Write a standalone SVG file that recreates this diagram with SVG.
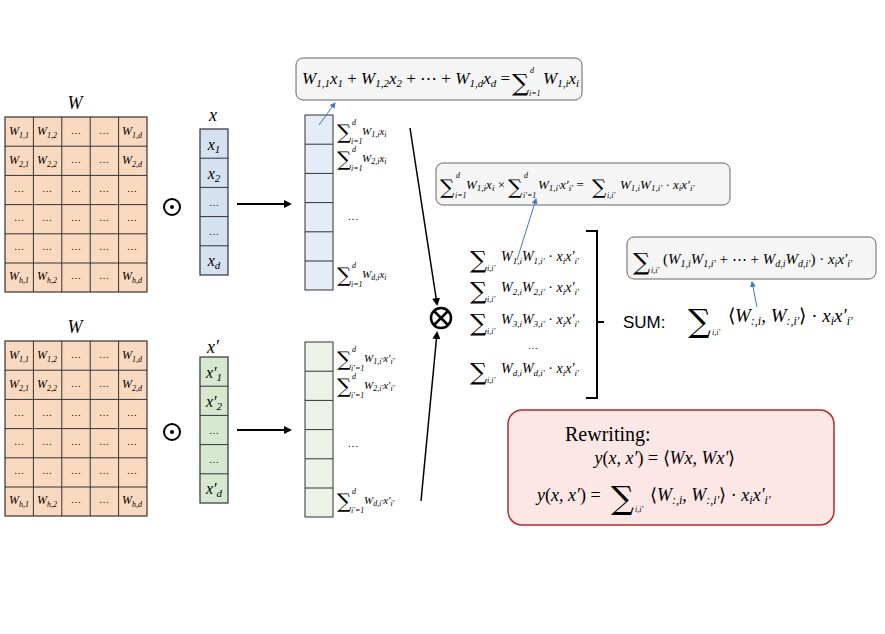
<svg xmlns="http://www.w3.org/2000/svg" width="885" height="634" viewBox="0 0 885 634">
<style>
.mat rect{fill:#fad9c1;stroke:#333;stroke-width:1.2}
.vx rect{fill:#d4e1f0;stroke:#333;stroke-width:1.2}
.vx2 rect{fill:#d6e8d0;stroke:#333;stroke-width:1.2}
.col1 rect{fill:#e3ecf7;stroke:#333;stroke-width:1}
.col2 rect{fill:#ecf3e6;stroke:#333;stroke-width:1}
text{font-family:"Liberation Serif",serif;fill:#000}
.m{font-style:italic}
.c{text-anchor:middle}
.s{font-family:"DejaVu Serif",serif;font-style:normal}
.l{font-style:italic;font-size:8px}
.box{fill:#f5f5f5;stroke:#666;stroke-width:1}
.blue{stroke:#4a74c9;stroke-width:1;fill:none}
.ar{stroke:#000;stroke-width:2;fill:none}
</style>
<defs>
<marker id="ah" markerWidth="8" markerHeight="8" refX="6" refY="4" orient="auto" markerUnits="userSpaceOnUse"><path d="M0,0 L8,4 L0,8 Z" fill="#000"/></marker>
<marker id="ab" markerWidth="6" markerHeight="6" refX="5" refY="3" orient="auto" markerUnits="userSpaceOnUse"><path d="M0,0 L6,3 L0,6 Z" fill="#4a74c9"/></marker>
</defs>

<g id="matrix-top">
<text x="75" y="109" class="m c" font-size="18">W</text>
<g class="mat">
<rect x="5" y="117" width="142" height="175"/>
<path d="M33.4,117V292M61.8,117V292M90.2,117V292M118.6,117V292M5,146.2H147M5,175.4H147M5,204.6H147M5,233.8H147M5,263H147" stroke="#333" fill="none"/>
</g>
<g font-size="12" class="m">
<text x="19" y="135" class="c">W<tspan dy="3" font-size="8">1,1</tspan></text>
<text x="47" y="135" class="c">W<tspan dy="3" font-size="8">1,2</tspan></text>
<text x="132" y="135" class="c">W<tspan dy="3" font-size="8">1,d</tspan></text>
<text x="19" y="164" class="c">W<tspan dy="3" font-size="8">2,1</tspan></text>
<text x="47" y="164" class="c">W<tspan dy="3" font-size="8">2,2</tspan></text>
<text x="132" y="164" class="c">W<tspan dy="3" font-size="8">2,d</tspan></text>
<text x="19" y="280" class="c">W<tspan dy="3" font-size="8">h,1</tspan></text>
<text x="47" y="280" class="c">W<tspan dy="3" font-size="8">h,2</tspan></text>
<text x="132" y="280" class="c">W<tspan dy="3" font-size="8">h,d</tspan></text>
</g>
<g font-size="10" class="c">
<text x="76" y="134">…</text><text x="104" y="134">…</text>
<text x="76" y="163">…</text><text x="104" y="163">…</text>
<text x="19" y="192">…</text><text x="47" y="192">…</text><text x="76" y="192">…</text><text x="104" y="192">…</text><text x="132" y="192">…</text>
<text x="19" y="221">…</text><text x="47" y="221">…</text><text x="76" y="221">…</text><text x="104" y="221">…</text><text x="132" y="221">…</text>
<text x="19" y="250">…</text><text x="47" y="250">…</text><text x="76" y="250">…</text><text x="104" y="250">…</text><text x="132" y="250">…</text>
<text x="76" y="279">…</text><text x="104" y="279">…</text>
</g>
</g>

<g id="matrix-bottom">
<text x="75" y="333" class="m c" font-size="18">W</text>
<g class="mat">
<rect x="5" y="341" width="142" height="175"/>
<path d="M33.4,341V516M61.8,341V516M90.2,341V516M118.6,341V516M5,370.2H147M5,399.4H147M5,428.6H147M5,457.8H147M5,487H147" stroke="#333" fill="none"/>
</g>
<g font-size="12" class="m">
<text x="19" y="359" class="c">W<tspan dy="3" font-size="8">1,1</tspan></text>
<text x="47" y="359" class="c">W<tspan dy="3" font-size="8">1,2</tspan></text>
<text x="132" y="359" class="c">W<tspan dy="3" font-size="8">1,d</tspan></text>
<text x="19" y="388" class="c">W<tspan dy="3" font-size="8">2,1</tspan></text>
<text x="47" y="388" class="c">W<tspan dy="3" font-size="8">2,2</tspan></text>
<text x="132" y="388" class="c">W<tspan dy="3" font-size="8">2,d</tspan></text>
<text x="19" y="504" class="c">W<tspan dy="3" font-size="8">h,1</tspan></text>
<text x="47" y="504" class="c">W<tspan dy="3" font-size="8">h,2</tspan></text>
<text x="132" y="504" class="c">W<tspan dy="3" font-size="8">h,d</tspan></text>
</g>
<g font-size="10" class="c">
<text x="76" y="358">…</text><text x="104" y="358">…</text>
<text x="76" y="387">…</text><text x="104" y="387">…</text>
<text x="19" y="416">…</text><text x="47" y="416">…</text><text x="76" y="416">…</text><text x="104" y="416">…</text><text x="132" y="416">…</text>
<text x="19" y="445">…</text><text x="47" y="445">…</text><text x="76" y="445">…</text><text x="104" y="445">…</text><text x="132" y="445">…</text>
<text x="19" y="474">…</text><text x="47" y="474">…</text><text x="76" y="474">…</text><text x="104" y="474">…</text><text x="132" y="474">…</text>
<text x="76" y="503">…</text><text x="104" y="503">…</text>
</g>
</g>

<g id="odot-top"><circle cx="172" cy="207" r="8" fill="none" stroke="#000" stroke-width="2"/><circle cx="172" cy="207" r="2" fill="#000"/></g>
<g id="odot-bottom"><circle cx="172" cy="432" r="8" fill="none" stroke="#000" stroke-width="2"/><circle cx="172" cy="432" r="2" fill="#000"/></g>

<g id="vector-x">
<text x="213" y="121" class="m c" font-size="18">x</text>
<g class="vx"><rect x="200" y="129" width="28" height="146"/><path d="M200,158.2H228M200,187.4H228M200,216.6H228M200,245.8H228" stroke="#333"/></g>
<text x="214" y="150" class="m c" font-size="16">x<tspan dy="3" font-size="11">1</tspan></text>
<text x="214" y="179" class="m c" font-size="16">x<tspan dy="3" font-size="11">2</tspan></text>
<text x="214" y="206" class="c" font-size="10">…</text>
<text x="214" y="235" class="c" font-size="10">…</text>
<text x="214" y="266" class="m c" font-size="16">x<tspan dy="3" font-size="11">d</tspan></text>
</g>

<g id="vector-xp">
<text x="213" y="353" class="m c" font-size="18">x′</text>
<g class="vx2"><rect x="200" y="357" width="28" height="146"/><path d="M200,386.2H228M200,415.4H228M200,444.6H228M200,473.8H228" stroke="#333"/></g>
<text x="214" y="378" class="m c" font-size="16">x′<tspan dy="3" font-size="11">1</tspan></text>
<text x="214" y="407" class="m c" font-size="16">x′<tspan dy="3" font-size="11">2</tspan></text>
<text x="214" y="434" class="c" font-size="10">…</text>
<text x="214" y="463" class="c" font-size="10">…</text>
<text x="214" y="494" class="m c" font-size="16">x′<tspan dy="3" font-size="11">d</tspan></text>
</g>

<g id="column-top">
<g class="col1"><rect x="305" y="115" width="28" height="175"/><path d="M305,144.2H333M305,173.4H333M305,202.6H333M305,231.8H333M305,261H333" stroke="#333"/></g>
<g font-size="11">
<text x="337" y="139" class="s" font-size="20">∑</text><text x="352" y="125" class="l">d</text><text x="351" y="144" class="l">i=1</text><text x="362" y="135" class="m">W<tspan dy="2" font-size="8">1,i</tspan><tspan dy="-2">x</tspan><tspan dy="2" font-size="8">i</tspan></text>
<text x="337" y="166" class="s" font-size="20">∑</text><text x="352" y="152" class="l">d</text><text x="351" y="171" class="l">i=1</text><text x="362" y="162" class="m">W<tspan dy="2" font-size="8">2,i</tspan><tspan dy="-2">x</tspan><tspan dy="2" font-size="8">i</tspan></text>
<text x="353" y="220" class="c">…</text>
<text x="337" y="282" class="s" font-size="20">∑</text><text x="352" y="268" class="l">d</text><text x="351" y="287" class="l">i=1</text><text x="362" y="278" class="m">W<tspan dy="2" font-size="8">d,i</tspan><tspan dy="-2">x</tspan><tspan dy="2" font-size="8">i</tspan></text>
</g>
</g>

<g id="column-bottom">
<g class="col2"><rect x="305" y="342" width="28" height="175"/><path d="M305,371.2H333M305,400.4H333M305,429.6H333M305,458.8H333M305,488H333" stroke="#333"/></g>
<g font-size="11">
<text x="337" y="366" class="s" font-size="20">∑</text><text x="352" y="352" class="l">d</text><text x="351" y="371" class="l">i′=1</text><text x="364" y="362" class="m">W<tspan dy="2" font-size="8">1,i′</tspan><tspan dy="-2">x′</tspan><tspan dy="2" font-size="8">i′</tspan></text>
<text x="337" y="393" class="s" font-size="20">∑</text><text x="352" y="379" class="l">d</text><text x="351" y="398" class="l">i′=1</text><text x="364" y="389" class="m">W<tspan dy="2" font-size="8">2,i′</tspan><tspan dy="-2">x′</tspan><tspan dy="2" font-size="8">i′</tspan></text>
<text x="353" y="447" class="c">…</text>
<text x="337" y="508" class="s" font-size="20">∑</text><text x="352" y="494" class="l">d</text><text x="351" y="513" class="l">i′=1</text><text x="364" y="504" class="m">W<tspan dy="2" font-size="8">d,i′</tspan><tspan dy="-2">x′</tspan><tspan dy="2" font-size="8">i′</tspan></text>
</g>
</g>

<g id="otimes"><circle cx="441" cy="318" r="10" fill="none" stroke="#000" stroke-width="2.5"/><path d="M434,311L448,325M448,311L434,325" stroke="#000" stroke-width="2.5"/></g>

<g id="box-top">
<rect x="296" y="58" width="286" height="42" rx="7" class="box"/>
<text x="302" y="84" class="m" font-size="17">W<tspan dy="3" font-size="11">1,1</tspan><tspan dy="-3">x</tspan><tspan dy="3" font-size="11">1</tspan><tspan dy="-3" font-style="normal"> + </tspan>W<tspan dy="3" font-size="11">1,2</tspan><tspan dy="-3">x</tspan><tspan dy="3" font-size="11">2</tspan><tspan dy="-3" font-style="normal"> + ⋯ + </tspan>W<tspan dy="3" font-size="11">1,d</tspan><tspan dy="-3">x</tspan><tspan dy="3" font-size="11">d</tspan><tspan dy="-3" font-style="normal"> =</tspan></text>
<text x="512" y="91" class="s" font-size="24">∑</text><text x="530" y="73" class="l" font-size="10">d</text><text x="529" y="96" class="l" font-size="9">i=1</text>
<text x="543" y="84" class="m" font-size="17">W<tspan dy="3" font-size="11">1,i</tspan><tspan dy="-3">x</tspan><tspan dy="3" font-size="11">i</tspan></text>
</g>

<g id="box-mid">
<rect x="436" y="163" width="294" height="42" rx="7" class="box"/>
<text x="440" y="194" class="s" font-size="20">∑</text><text x="456" y="178" class="l">d</text><text x="455" y="198" class="l">i=1</text>
<text x="466" y="189" class="m" font-size="13">W<tspan dy="2" font-size="9">1,i</tspan><tspan dy="-2">x</tspan><tspan dy="2" font-size="9">i</tspan><tspan dy="-2" font-style="normal"> ×</tspan></text>
<text x="508" y="194" class="s" font-size="20">∑</text><text x="524" y="178" class="l">d</text><text x="523" y="198" class="l">i′=1</text>
<text x="538" y="189" class="m" font-size="13">W<tspan dy="2" font-size="9">1,i′</tspan><tspan dy="-2">x′</tspan><tspan dy="2" font-size="9">i′</tspan><tspan dy="-2" font-style="normal"> =</tspan></text>
<text x="592" y="194" class="s" font-size="20">∑</text><text x="607" y="198" class="l">i,i′</text>
<text x="620" y="189" class="m" font-size="13">W<tspan dy="2" font-size="9">1,i</tspan><tspan dy="-2">W</tspan><tspan dy="2" font-size="9">1,i′</tspan><tspan dy="-2" font-style="normal"> · </tspan>x<tspan dy="2" font-size="9">i</tspan><tspan dy="-2">x′</tspan><tspan dy="2" font-size="9">i′</tspan></text>
</g>

<g id="sum-column" font-size="14">
<text x="470" y="268" class="s" font-size="24">∑</text><text x="487" y="271" class="l">i,i′</text>
<text x="501" y="261" class="m">W<tspan dy="3" font-size="9">1,i</tspan><tspan dy="-3">W</tspan><tspan dy="3" font-size="9">1,i′</tspan><tspan dy="-3" font-style="normal"> · </tspan>x<tspan dy="3" font-size="9">i</tspan><tspan dy="-3">x′</tspan><tspan dy="3" font-size="9">i′</tspan></text>
<text x="470" y="299" class="s" font-size="24">∑</text><text x="487" y="302" class="l">i,i′</text>
<text x="501" y="292" class="m">W<tspan dy="3" font-size="9">2,i</tspan><tspan dy="-3">W</tspan><tspan dy="3" font-size="9">2,i′</tspan><tspan dy="-3" font-style="normal"> · </tspan>x<tspan dy="3" font-size="9">i</tspan><tspan dy="-3">x′</tspan><tspan dy="3" font-size="9">i′</tspan></text>
<text x="470" y="331" class="s" font-size="24">∑</text><text x="487" y="334" class="l">i,i′</text>
<text x="501" y="324" class="m">W<tspan dy="3" font-size="9">3,i</tspan><tspan dy="-3">W</tspan><tspan dy="3" font-size="9">3,i′</tspan><tspan dy="-3" font-style="normal"> · </tspan>x<tspan dy="3" font-size="9">i</tspan><tspan dy="-3">x′</tspan><tspan dy="3" font-size="9">i′</tspan></text>
<text x="533" y="349" class="c" font-size="10">…</text>
<text x="470" y="380" class="s" font-size="24">∑</text><text x="487" y="383" class="l">i,i′</text>
<text x="501" y="373" class="m">W<tspan dy="3" font-size="9">d,i</tspan><tspan dy="-3">W</tspan><tspan dy="3" font-size="9">d,i′</tspan><tspan dy="-3" font-style="normal"> · </tspan>x<tspan dy="3" font-size="9">i</tspan><tspan dy="-3">x′</tspan><tspan dy="3" font-size="9">i′</tspan></text>
</g>

<g id="bracket"><path d="M586,231H597V398H586M597,322H604" fill="none" stroke="#000" stroke-width="2"/></g>

<g id="sum-label">
<text x="623" y="328" font-size="17" style="font-family:'Liberation Sans',sans-serif">SUM:</text>
<text x="688" y="332" class="s" font-size="32">∑</text><text x="712" y="335" class="l" font-size="10">i,i′</text>
<text x="728" y="322" class="m" font-size="19"><tspan font-style="normal">⟨</tspan>W<tspan dy="3" font-size="12">:,i</tspan><tspan dy="-3">, W</tspan><tspan dy="3" font-size="12">:,i′</tspan><tspan dy="-3" font-style="normal">⟩ · </tspan>x<tspan dy="3" font-size="12">i</tspan><tspan dy="-3">x′</tspan><tspan dy="3" font-size="12">i′</tspan></text>
</g>

<g id="box-right">
<rect x="627" y="237" width="249" height="42" rx="7" class="box"/>
<text x="633" y="270" class="s" font-size="24">∑</text><text x="651" y="273" class="l">i,i′</text>
<text x="663" y="264" class="m" font-size="15"><tspan font-style="normal">(</tspan>W<tspan dy="3" font-size="10">1,i</tspan><tspan dy="-3">W</tspan><tspan dy="3" font-size="10">1,i′</tspan><tspan dy="-3" font-style="normal"> + ⋯ + </tspan>W<tspan dy="3" font-size="10">d,i</tspan><tspan dy="-3">W</tspan><tspan dy="3" font-size="10">d,i′</tspan><tspan dy="-3" font-style="normal">) · </tspan>x<tspan dy="3" font-size="10">i</tspan><tspan dy="-3">x′</tspan><tspan dy="3" font-size="10">i′</tspan></text>
</g>

<g id="rewriting">
<rect x="508" y="410" width="326" height="115" rx="14" fill="#fde6e6" stroke="#b22a2a" stroke-width="1.5"/>
<text x="565" y="441" font-size="20">Rewriting:</text>
<text x="665" y="464" class="m c" font-size="18">y<tspan font-style="normal">(</tspan>x, x′<tspan font-style="normal">) = ⟨</tspan>Wx, Wx′<tspan font-style="normal">⟩</tspan></text>
<text x="537" y="501" class="m" font-size="18">y<tspan font-style="normal">(</tspan>x, x′<tspan font-style="normal">) =</tspan></text>
<text x="611" y="509" class="s" font-size="32">∑</text><text x="635" y="512" class="l" font-size="10">i,i′</text>
<text x="650" y="501" class="m" font-size="18"><tspan font-style="normal">⟨</tspan>W<tspan dy="3" font-size="12">:,i</tspan><tspan dy="-3">, W</tspan><tspan dy="3" font-size="12">:,i′</tspan><tspan dy="-3" font-style="normal">⟩ · </tspan>x<tspan dy="3" font-size="12">i</tspan><tspan dy="-3">x′</tspan><tspan dy="3" font-size="12">i′</tspan></text>
</g>

<g id="connectors">
<line x1="237" y1="204" x2="290" y2="204" class="ar" marker-end="url(#ah)"/>
<line x1="237" y1="430" x2="290" y2="430" class="ar" marker-end="url(#ah)"/>
<line x1="410" y1="128" x2="437" y2="304" stroke="#000" stroke-width="1.5" marker-end="url(#ah)"/>
<line x1="421" y1="501" x2="437" y2="333" stroke="#000" stroke-width="1.5" marker-end="url(#ah)"/>
<line x1="319" y1="125" x2="335" y2="103" class="blue" marker-end="url(#ab)"/>
<line x1="517" y1="260" x2="536" y2="199" class="blue" marker-end="url(#ab)"/>
<line x1="757" y1="307" x2="752" y2="282" class="blue" marker-end="url(#ab)"/>
</g>
</svg>
